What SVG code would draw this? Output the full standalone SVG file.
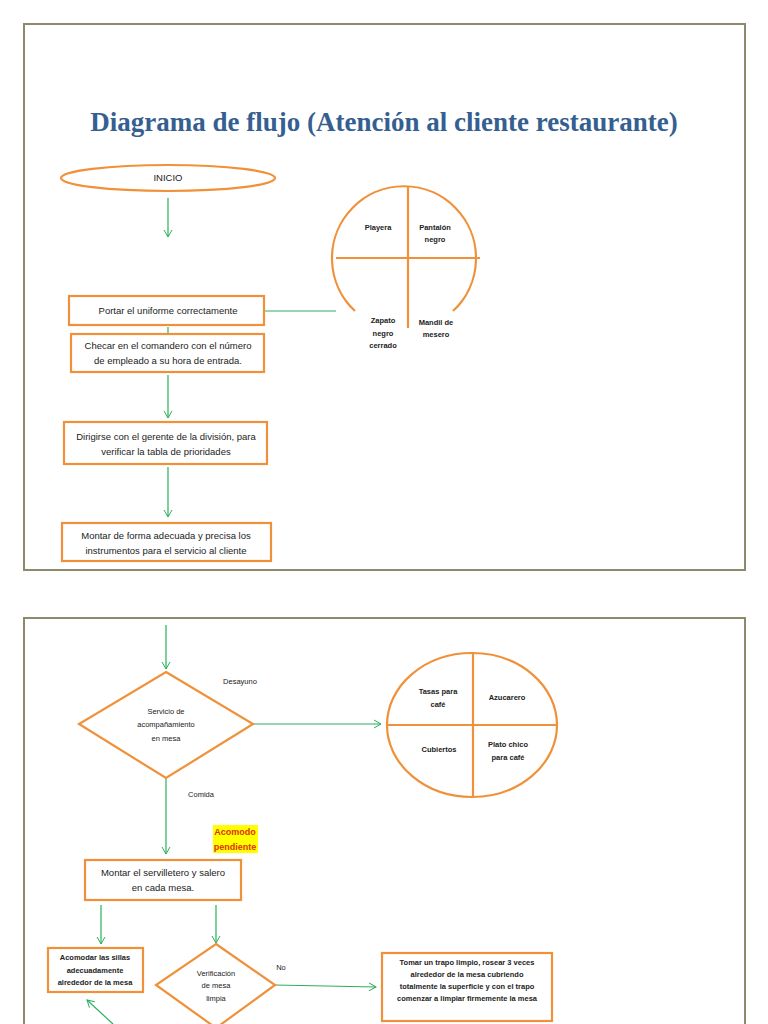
<svg xmlns="http://www.w3.org/2000/svg" width="768" height="1024" viewBox="0 0 768 1024">
<defs>
<marker id="ah" markerWidth="10" markerHeight="10" refX="8" refY="5" orient="auto" markerUnits="userSpaceOnUse"><path d="M1,1 L8,5 L1,9" fill="none" stroke="#2bb05a" stroke-width="1"/></marker>
</defs>
<style>
.panel{fill:#fff;stroke:#8c8a6a;stroke-width:2}
.sh{fill:#fff;stroke:#f0913a;stroke-width:2.2}
.ln{fill:none;stroke:#f0913a;stroke-width:2.2}
.c{fill:none;stroke:#2bb05a;stroke-width:1.2;marker-end:url(#ah)}
.c0{fill:none;stroke:#2bb05a;stroke-width:1.2}
text{font-family:"Liberation Sans",Arial,sans-serif;fill:#222;text-anchor:middle}
.t{font-size:9.5px}
.s{font-size:7.5px;font-weight:bold}
.xs{font-size:7.5px}
</style>
<rect width="768" height="1024" fill="#fff"/>
<rect class="panel" x="24" y="24" width="721" height="546"/>
<rect class="panel" x="24" y="618" width="721" height="420"/>
<text x="384" y="131" style="font-family:'Liberation Serif',serif;font-size:27px;font-weight:bold;fill:#365f91">Diagrama de flujo (Atención al cliente restaurante)</text>
<g id="connectors">
<path class="c" d="M168,198 V237"/>
<path class="c0" d="M264,311 H336"/>
<path class="c" d="M168,327 V367"/>
<path class="c" d="M168,375 V418"/>
<path class="c" d="M168,467 V517"/>
<path class="c" d="M166,625 V669"/>
<path class="c" d="M253,724 H381"/>
<path class="c" d="M166,778 V854"/>
<path class="c" d="M101,905 V944"/>
<path class="c" d="M216,905 V943"/>
<path class="c" d="M275,985 L376,987"/>
<path class="c" d="M113,1024 L87,1000"/>
</g>
<g id="inicio"><ellipse class="sh" cx="168" cy="178" rx="107" ry="13"/><text class="t" x="168" y="181">INICIO</text></g>
<g id="uniforme">
<path class="ln" d="M355,311 A72,72 0 1 1 453,311"/>
<path class="ln" d="M336,258 H480 M408,186 V328"/>
<text class="s" x="378" y="230">Playera</text>
<text class="s" x="435" y="230">Pantalón</text><text class="s" x="435" y="242">negro</text>
<text class="s" x="383" y="323">Zapato</text><text class="s" x="383" y="336">negro</text><text class="s" x="383" y="348">cerrado</text>
<text class="s" x="436" y="325">Mandil de</text><text class="s" x="436" y="337">mesero</text>
</g>
<g id="b1"><rect class="sh" x="69" y="296" width="195" height="29"/><text class="t" x="168" y="314">Portar el uniforme correctamente</text></g>
<g id="b2"><rect class="sh" x="71" y="334" width="193" height="38"/><text class="t" x="168" y="349">Checar en el comandero con el número</text><text class="t" x="168" y="364">de empleado a su hora de entrada.</text></g>
<g id="b3"><rect class="sh" x="64" y="422" width="203" height="42"/><text class="t" x="166" y="440">Dirigirse con el gerente de la división, para</text><text class="t" x="166" y="455">verificar la tabla de prioridades</text></g>
<g id="b4"><rect class="sh" x="62" y="523" width="209" height="38"/><text class="t" x="166" y="539">Montar de forma adecuada y precisa los</text><text class="t" x="166" y="554">instrumentos para el servicio al cliente</text></g>
<g id="d1"><path class="sh" d="M166,672 L253,724 L166,778 L79,724 Z"/>
<text class="xs" x="166" y="714">Servicio de</text><text class="xs" x="166" y="727">acompañamiento</text><text class="xs" x="166" y="741">en mesa</text></g>
<text class="xs" x="240" y="684">Desayuno</text>
<text class="xs" x="201" y="797">Comida</text>
<g id="servicio-cafe"><ellipse cx="472" cy="725" rx="85" ry="72" fill="#fff" stroke="#f0913a" stroke-width="2.2"/><path d="M387,725 H557 M473,653 V797" fill="none" stroke="#f0913a" stroke-width="2.2"/>
<text class="s" x="438" y="694">Tasas para</text><text class="s" x="438" y="707">café</text>
<text class="s" x="507" y="700">Azucarero</text>
<text class="s" x="439" y="752">Cubiertos</text>
<text class="s" x="508" y="747">Plato chico</text><text class="s" x="508" y="760">para café</text></g>
<g id="pend"><rect x="213" y="825" width="45" height="28" fill="#ffff00"/>
<text x="235" y="835" style="font-size:9px;font-weight:bold;fill:#e03010">Acomodo</text><text x="235" y="850" style="font-size:9px;font-weight:bold;fill:#e03010">pendiente</text></g>
<g id="b5"><rect class="sh" x="85" y="860" width="156" height="40"/><text class="t" x="163" y="876">Montar el servilletero y salero</text><text class="t" x="163" y="891">en cada mesa.</text></g>
<g id="b6"><rect class="sh" x="48" y="948" width="95" height="44"/><text class="s" x="95" y="960">Acomodar las sillas</text><text class="s" x="95" y="973">adecuadamente</text><text class="s" x="95" y="985">alrededor de la mesa</text></g>
<g id="d2"><path class="sh" d="M216,944 L275,985 L216,1028 L156,985 Z"/><text class="xs" x="216" y="976">Verificación</text><text class="xs" x="216" y="988">de mesa</text><text class="xs" x="216" y="1001">limpia</text></g>
<text class="xs" x="281" y="970">No</text>
<g id="b7"><rect class="sh" x="382" y="953" width="170" height="68"/>
<text class="s" x="467" y="965">Tomar un trapo limpio, rosear 3 veces</text><text class="s" x="467" y="977">alrededor de la mesa cubriendo</text><text class="s" x="467" y="989">totalmente la superficie y con el trapo</text><text class="s" x="467" y="1001">comenzar a limpiar firmemente la mesa</text></g>
</svg>
